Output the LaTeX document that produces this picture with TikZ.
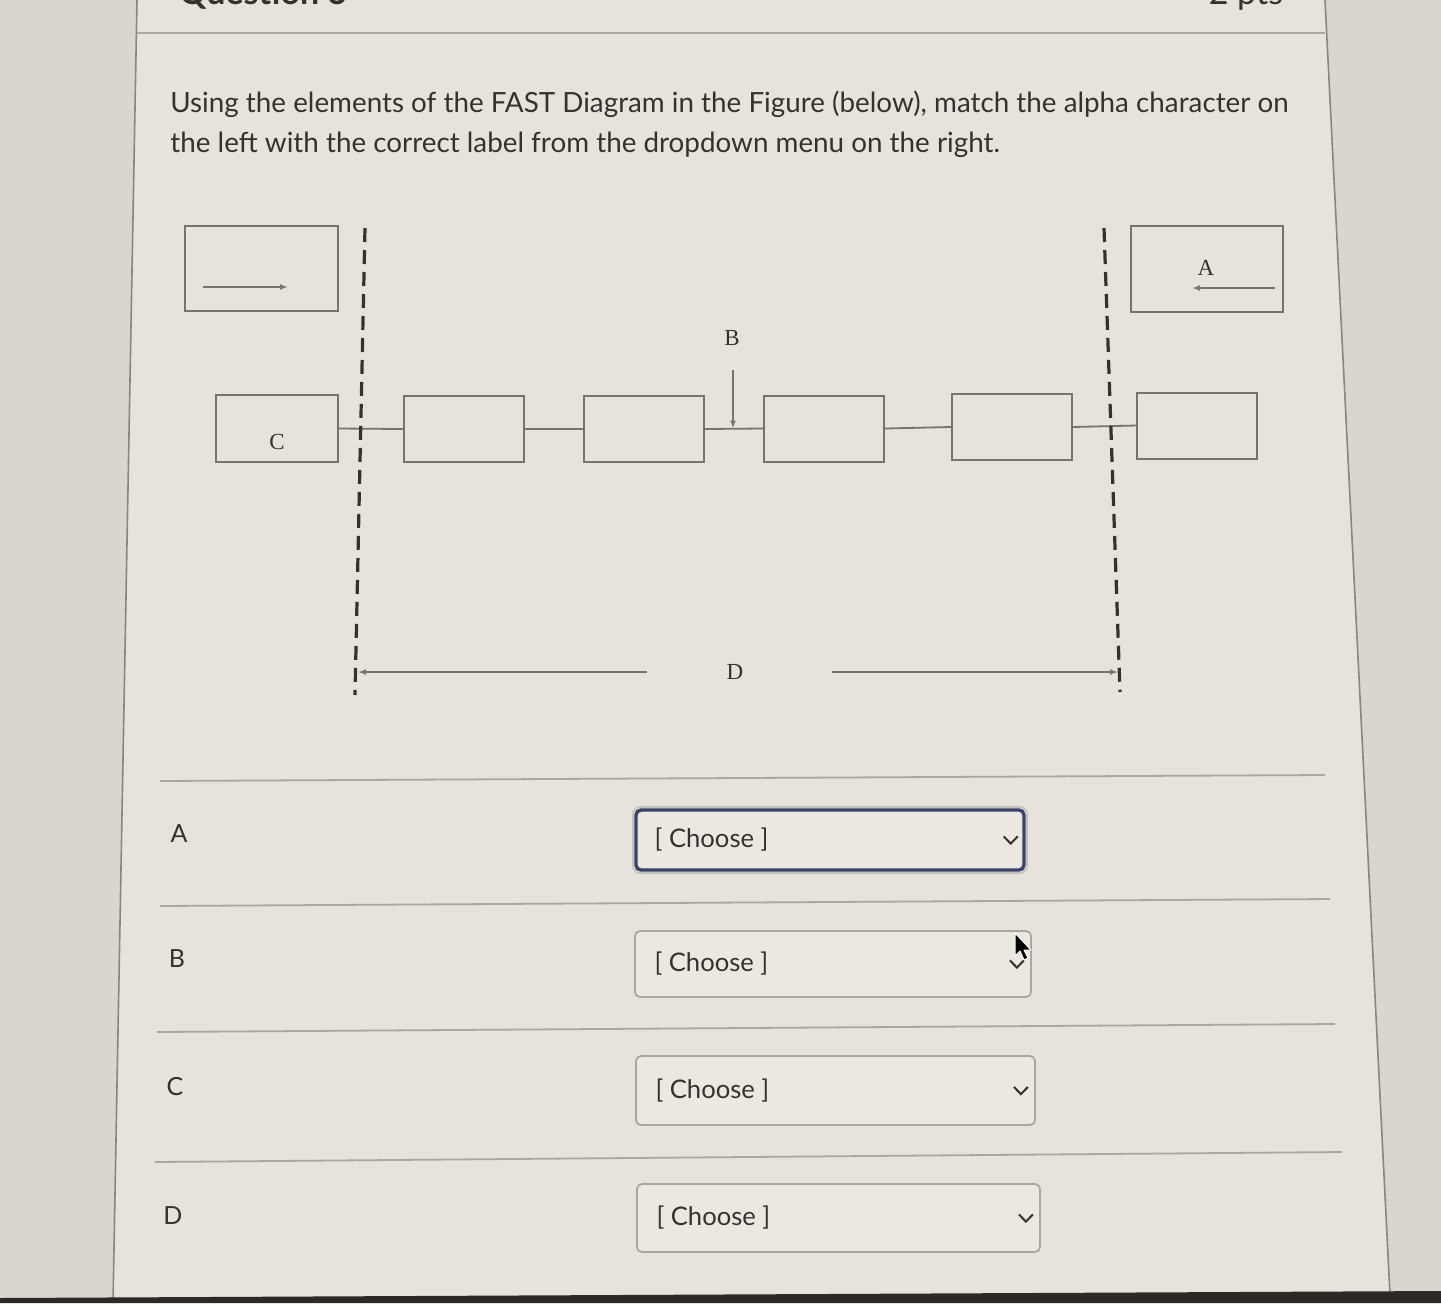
\documentclass[tikz,border=0pt]{standalone}
\usepackage{fontspec}
\setmainfont{Lato}
\newfontfamily\diagfont{Liberation Serif}
\usetikzlibrary{arrows.meta}
\definecolor{paper}{HTML}{E7E3DC}
\definecolor{margin}{HTML}{DAD6CF}
\definecolor{ink}{HTML}{35312D}
\definecolor{rule}{HTML}{ABA79F}
\definecolor{boxline}{HTML}{78736C}
\definecolor{focus}{HTML}{38436C}
\tikzset{
  fbox/.style={draw=boxline, line width=1pt, minimum width=60pt, minimum height=33pt, inner sep=0pt},
  fline/.style={draw=boxline, line width=0.9pt},
  scopeline/.style={draw=ink, line width=1.6pt, dash pattern=on 7pt off 4pt},
  tip/.style={-{Latex[length=4pt,width=3pt]}},
  letter/.style={font=\diagfont\fontsize{11.5}{13}\selectfont, text=ink},
  answer/.style={font=\fontsize{12.5}{15}\selectfont, text=ink},
  question/.style={font=\fontsize{13.9}{20}\selectfont, text=ink, anchor=base west, inner sep=0pt},
  choice/.style={draw=rule, line width=0.9pt, rounded corners=2.5pt, fill=paper!85!white, inner sep=0pt},
  chooser/.style={font=\fontsize{12.8}{16}\selectfont, text=ink, anchor=west, inner sep=0pt},
}
\begin{document}
\begin{tikzpicture}[x=0.5pt, y=-0.5pt]
  \useasboundingbox (0,0) rectangle (1441,1303);
  \clip (0,0) rectangle (1441,1303);
  % page and card
  \fill[margin] (0,0) rectangle (1441,1303);
  \fill[paper] (137,0) -- (1325,0) -- (1390,1295) -- (113,1303) -- cycle;
  \draw[rule!80!black, line width=0.8pt] (137,0) -- (113,1303);
  \draw[rule!80!black, line width=0.8pt] (1325,0) -- (1390,1295);
  \draw[rule, line width=1.2pt] (137,33) -- (1325,33);
  \fill[ink!85!black] (0,1298) -- (1441,1291) -- (1441,1303) -- (0,1303) -- cycle;
  \node[font=\bfseries\fontsize{17}{20}\selectfont, text=ink, anchor=base west] (qtitle) at (172,4) {Question 3};
  \node[font=\fontsize{17}{20}\selectfont, text=ink, anchor=base east] (qpts) at (1290,4) {2 pts};
  % question text
  \node[question] (qline1) at (170,112)
    {Using the elements of the FAST Diagram in the Figure (below), match the alpha character on};
  \node[question] (qline2) at (170,152)
    {the left with the correct label from the dropdown menu on the right.};
  % FAST diagram
  \node[fbox, minimum width=76.5pt, minimum height=42.5pt] (basic) at (261.5,268.5) {};
  \node[fbox, minimum width=76pt, minimum height=43pt] (outside) at (1207,269) {};
  \node[letter] (labA) at (1206,268) {A};
  \coordinate (bas1) at (203,287);
  \coordinate (bas2) at (288,287);
  \coordinate (out1) at (1275,288);
  \coordinate (out2) at (1192,288);
  \draw[fline, tip] (bas1) -- (bas2);
  \draw[fline, tip] (out1) -- (out2);
  \node[fbox, minimum width=61pt, minimum height=33.5pt] (f1) at (277,428.5) {};
  \node[letter] (labC) at (277,442) {C};
  \node[fbox] (f2) at (464,429) {};
  \node[fbox] (f3) at (644,429) {};
  \node[fbox] (f4) at (824,428.5) {};
  \node[fbox] (f5) at (1012,427) {};
  \node[fbox] (f6) at (1197,425.5) {};
  \begin{scope}[fline]
    \draw (f1.east) -- (f2.west);
    \draw (f2.east) -- (f3.west);
    \draw (f3.east) -- (f4.west);
    \draw (f4.east) -- (f5.west);
    \draw (f5.east) -- (f6.west);
  \end{scope}
  \node[letter] (labB) at (732,338) {B};
  \coordinate (bt) at (733,370);
  \coordinate (bb) at (733,428.5);
  \draw[fline, tip] (bt) -- (bb);
  % scope lines
  \coordinate (ltop) at (365,228);
  \coordinate (lbot) at (355,695);
  \coordinate (rtop) at (1104,228);
  \coordinate (rbot) at (1120,692);
  \draw[scopeline] (ltop) -- (lbot);
  \draw[scopeline] (rtop) -- (rbot);
  \node[letter] (labD) at (735,672) {D};
  \coordinate (dls) at (647,672);
  \coordinate (dle) at (358,672);
  \coordinate (drs) at (832,672);
  \coordinate (dre) at (1118,672);
  \draw[fline, tip] (dls) -- (dle);
  \draw[fline, tip] (drs) -- (dre);
  % answer rows
  \begin{scope}[rule, line width=0.9pt]
    \draw (160,781) -- (1325,775);
    \draw (160,906) -- (1330,899);
    \draw (157,1032) -- (1335,1024);
    \draw (155,1162) -- (1342,1152);
  \end{scope}
  \node[answer] (ansA) at (179,834) {A};
  \node[answer] (ansB) at (177,959) {B};
  \node[answer] (ansC) at (175,1087) {C};
  \node[answer] (ansD) at (173,1216) {D};
  % dropdowns
  \draw[rule!70, line width=0.8pt, rounded corners=3.5pt] (633,807) rectangle (1027,873);
  \node[choice, draw=focus, line width=1.7pt, minimum width=194pt, minimum height=30pt] (ddA) at (830,840) {};
  \node[choice, minimum width=198pt, minimum height=33pt] (ddB) at (833,964) {};
  \node[choice, minimum width=199.5pt, minimum height=34.5pt] (ddC) at (835.5,1090.5) {};
  \node[choice, minimum width=201.5pt, minimum height=34pt] (ddD) at (838.5,1218) {};
  \foreach \dd in {ddA,ddB,ddC,ddD}{
    \node[chooser] at ([xshift=10pt]\dd.west) {[ Choose ]};
    \draw[ink, line width=1pt] ([xshift=-11pt, yshift=1.8pt]\dd.east) -- ([xshift=-7.5pt, yshift=-1.8pt]\dd.east) -- ([xshift=-4pt, yshift=1.8pt]\dd.east);
  }
  % mouse pointer
  \filldraw[fill=black, draw=white, line width=0.5pt, line join=round]
    (1015,933) -- (1015,956) -- (1020,951) -- (1024,960) -- (1028,958) -- (1024,950) -- (1031,950) -- cycle;
\end{tikzpicture}
\end{document}
